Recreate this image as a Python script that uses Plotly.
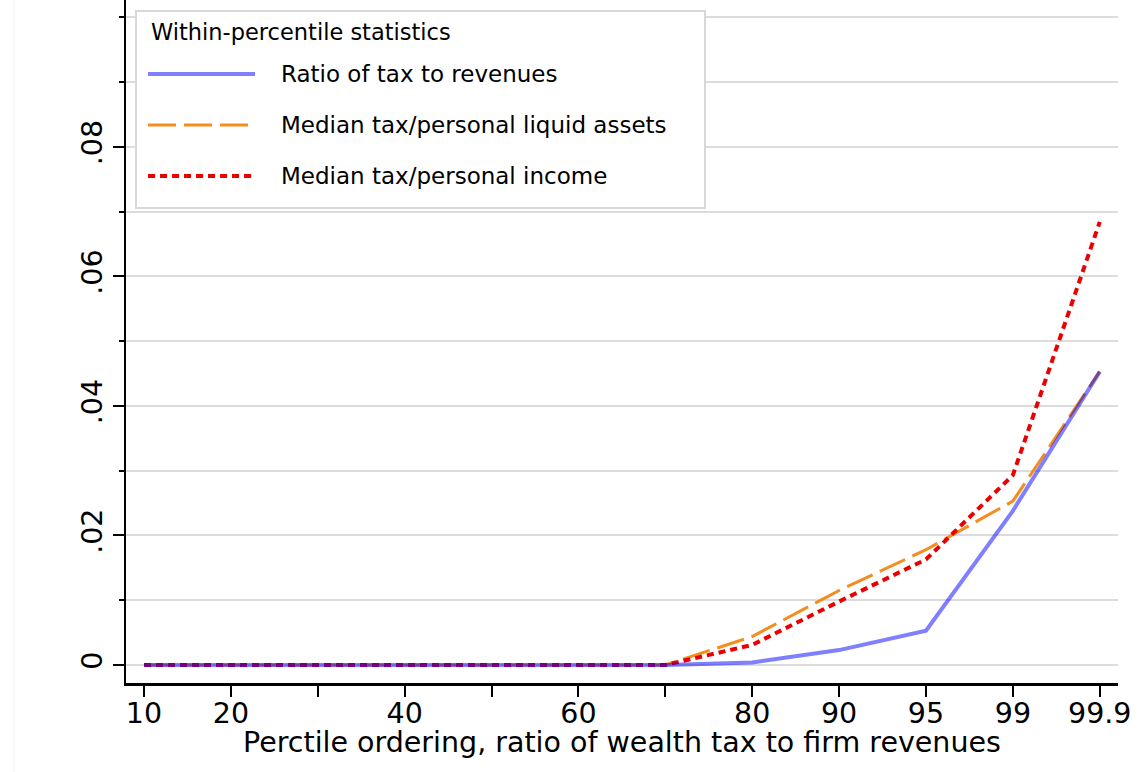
import plotly.graph_objects as go

# ---- data ----
percentiles = ["10", "20", "30", "40", "50", "60", "70", "80", "90", "95", "99", "99.9"]
tick_labels = ["10", "20", "", "40", "", "60", "", "80", "90", "95", "99", "99.9"]
ratio_tax_revenues = [0, 0, 0, 0, 0, 0, 0, 0.0004, 0.0023, 0.0053, 0.0238, 0.0453]
median_tax_liquid = [0, 0, 0, 0, 0, 0, 0, 0.0044, 0.0115, 0.0178, 0.0253, 0.0453]
median_tax_income = [0, 0, 0, 0, 0, 0, 0, 0.0031, 0.0098, 0.0163, 0.0293, 0.0684]
y_tickvals = [0, 0.02, 0.04, 0.06, 0.08]
y_ticktext = ["0", ".02", ".04", ".06", ".08"]
series_names = ["Ratio of tax to revenues", "Median tax/personal liquid assets", "Median tax/personal income"]
legend_title = "Within-percentile statistics"
x_title = "Perctile ordering, ratio of wealth tax to firm revenues"

BLUE = "rgba(0,0,255,0.5)"
ORANGE = "rgb(245,140,30)"
RED = "rgb(235,0,0)"
FONT = "DejaVu Sans"

W, H = 1143, 772
ML, MR, MT, MB = 126, 25, 0, 89
PW = W - ML - MR
PH = H - MT - MB


def px(x):
    return (x - ML) / PW


def py(y):
    return (H - MB - y) / PH


fig = go.Figure()
fig.add_trace(go.Scatter(x=percentiles, y=median_tax_liquid, mode="lines",
                         line=dict(color=ORANGE, width=3, dash="28px,8px"),
                         name=series_names[1], showlegend=False))
fig.add_trace(go.Scatter(x=percentiles, y=median_tax_income, mode="lines",
                         line=dict(color=RED, width=4, dash="7px,5px"),
                         name=series_names[2], showlegend=False))
fig.add_trace(go.Scatter(x=percentiles, y=ratio_tax_revenues, mode="lines",
                         line=dict(color=BLUE, width=4),
                         name=series_names[0], showlegend=False))

# ---- manual legend ----
shapes = []
annotations = []
shapes.append(dict(type="rect", xref="paper", yref="paper",
                   x0=px(136), x1=px(705), y0=py(208), y1=py(11),
                   line=dict(color="#d8d8d8", width=2), fillcolor="white", layer="above"))
annotations.append(dict(xref="paper", yref="paper", x=px(149), y=py(32), text=legend_title,
                        showarrow=False, xanchor="left", yanchor="middle",
                        font=dict(family=FONT, size=22.5, color="black")))
legend_items = [(series_names[0], BLUE, 4, "solid", 74),
                (series_names[1], ORANGE, 3, "28px,8px", 125),
                (series_names[2], RED, 4, "7px,5px", 176)]
for name, col, w, dash, yy in legend_items:
    shapes.append(dict(type="line", xref="paper", yref="paper",
                       x0=px(148), x1=px(255), y0=py(yy), y1=py(yy),
                       line=dict(color=col, width=w, dash=dash), layer="above"))
    annotations.append(dict(xref="paper", yref="paper", x=px(279), y=py(yy), text=name,
                            showarrow=False, xanchor="left", yanchor="middle",
                            font=dict(family=FONT, size=23, color="black")))
# x-axis title
annotations.append(dict(xref="paper", yref="paper", x=px(621.5), y=py(743), text=x_title,
                        showarrow=False, xanchor="center", yanchor="middle",
                        font=dict(family=FONT, size=28.5, color="black")))
# faint outer frame line on the left
shapes.append(dict(type="line", xref="paper", yref="paper", x0=px(14), x1=px(14),
                   y0=py(772), y1=py(0), line=dict(color="#f2f2f2", width=1), layer="below"))

fig.update_layout(
    width=W, height=H,
    margin=dict(l=ML, r=MR, t=MT, b=MB, pad=0),
    paper_bgcolor="white", plot_bgcolor="white",
    font=dict(family=FONT, color="black"),
    showlegend=False,
    shapes=shapes, annotations=annotations,
    xaxis=dict(
        type="category",
        categoryorder="array", categoryarray=percentiles,
        range=[-0.207, 11.21],
        tickmode="array", tickvals=percentiles, ticktext=tick_labels,
        ticks="outside", ticklen=11, tickwidth=1.5, tickcolor="black",
        ticklabelstandoff=-8,
        showline=True, linecolor="black", linewidth=2.5,
        showgrid=False, zeroline=False,
        tickfont=dict(family=FONT, size=28.5, color="black"),
    ),
    yaxis=dict(
        range=[-0.00278, 0.10267],
        tickmode="array", tickvals=y_tickvals, ticktext=y_ticktext,
        tickangle=-90,
        ticks="outside", ticklen=11, tickwidth=1.5, tickcolor="black",
        showline=True, linecolor="black", linewidth=2,
        showgrid=True, gridcolor="#dcdcdc", gridwidth=2,
        zeroline=False,
        tickfont=dict(family=FONT, size=28.5, color="black"),
        minor=dict(dtick=0.01, tick0=0, ticks="outside", ticklen=5, tickwidth=1.5,
                   tickcolor="black", showgrid=True, gridcolor="#dcdcdc", gridwidth=2),
    ),
)

fig.write_html("out.html")
